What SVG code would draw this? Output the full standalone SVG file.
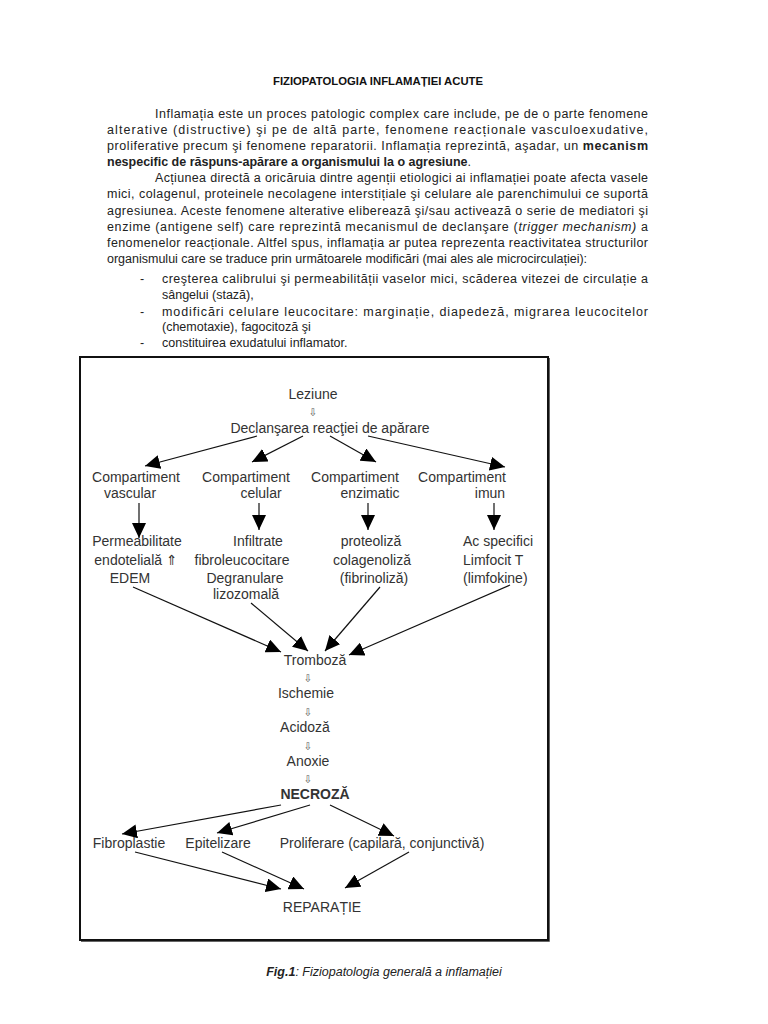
<svg xmlns="http://www.w3.org/2000/svg" width="768" height="1024" viewBox="0 0 768 1024">
<style>
.t{font-family:"Liberation Sans",Arial,sans-serif;font-size:12.5px;fill:#222}
.b{font-weight:bold}
.ti{font-family:"Liberation Sans",Arial,sans-serif;font-size:11.3px;font-weight:bold;fill:#111}
.d{font-family:"Liberation Sans",Arial,sans-serif;font-size:14px;fill:#333}
.m{text-anchor:middle}
.sa{font-family:"DejaVu Sans",sans-serif;font-size:10.5px;fill:#555;text-anchor:middle}
.c{stroke:#111;stroke-width:1.2;fill:none;marker-end:url(#ah)}
</style>
<defs>
<marker id="ah" markerUnits="userSpaceOnUse" markerWidth="16" markerHeight="14" refX="15" refY="7" orient="auto" viewBox="0 0 16 14">
<path d="M0,0 L15,7 L0,14 z" fill="#000"/>
</marker>
</defs>
<rect width="768" height="1024" fill="#fff"/>
<text class="ti m" x="378" y="85">FIZIOPATOLOGIA INFLAMAȚIEI ACUTE</text>
<g class="t">
<text x="155" y="118" textLength="493" lengthAdjust="spacing">Inflamația este un proces patologic complex care include, pe de o parte fenomene</text>
<text x="107" y="134" textLength="541" lengthAdjust="spacing">alterative (distructive) şi pe de altă parte, fenomene reacționale vasculoexudative,</text>
<text x="107" y="150" textLength="541" lengthAdjust="spacing">proliferative precum şi fenomene reparatorii. Inflamația reprezintă, aşadar, un <tspan class="b">mecanism</tspan></text>
<text x="107" y="166"><tspan class="b">nespecific de răspuns-apărare a organismului la o agresiune</tspan>.</text>
<text x="155" y="182" textLength="493" lengthAdjust="spacing">Acțiunea directă a oricăruia dintre agenții etiologici ai inflamației poate afecta vasele</text>
<text x="107" y="198" textLength="541" lengthAdjust="spacing">mici, colagenul, proteinele necolagene interstițiale şi celulare ale parenchimului ce suportă</text>
<text x="107" y="215" textLength="541" lengthAdjust="spacing">agresiunea. Aceste fenomene alterative eliberează şi/sau activează o serie de mediatori şi</text>
<text x="107" y="231" textLength="541" lengthAdjust="spacing">enzime (antigene self) care reprezintă mecanismul de declanşare (<tspan font-style="italic">trigger mechanism)</tspan> a</text>
<text x="107" y="247" textLength="541" lengthAdjust="spacing">fenomenelor reacționale. Altfel spus, inflamația ar putea reprezenta reactivitatea structurilor</text>
<text x="107" y="263">organismului care se traduce prin următoarele modificări (mai ales ale microcirculației):</text>
<text x="140" y="283">-</text>
<text x="162" y="283" textLength="486" lengthAdjust="spacing">creşterea calibrului şi permeabilității vaselor mici,  scăderea vitezei de circulație a</text>
<text x="162" y="299">sângelui (stază),</text>
<text x="140" y="316">-</text>
<text x="162" y="316" textLength="486" lengthAdjust="spacing"> modificări celulare leucocitare: marginație, diapedeză, migrarea leucocitelor</text>
<text x="162" y="331">(chemotaxie), fagocitoză şi</text>
<text x="140" y="347">-</text>
<text x="162" y="347">constituirea exudatului inflamator.</text>
</g>
<rect x="80" y="357" width="468" height="583" fill="none" stroke="#111" stroke-width="2"/>
<line x1="81" y1="941.5" x2="549.5" y2="941.5" stroke="#666" stroke-width="1"/>
<line x1="549.5" y1="358" x2="549.5" y2="941.5" stroke="#666" stroke-width="1"/>
<g id="connectors">
<line class="c" x1="257" y1="436" x2="145" y2="466"/>
<line class="c" x1="303" y1="436" x2="252" y2="462"/>
<line class="c" x1="330" y1="436" x2="376" y2="462"/>
<line class="c" x1="368" y1="436" x2="505" y2="467"/>
<line class="c" x1="139" y1="503" x2="139" y2="538"/>
<line class="c" x1="259" y1="503" x2="259" y2="530"/>
<line class="c" x1="368" y1="503" x2="368" y2="530"/>
<line class="c" x1="494" y1="503" x2="494" y2="530"/>
<line class="c" x1="133" y1="587" x2="281" y2="652"/>
<line class="c" x1="251" y1="603" x2="308" y2="651"/>
<line class="c" x1="380" y1="587" x2="325" y2="651"/>
<line class="c" x1="510" y1="585" x2="349" y2="655"/>
<line class="c" x1="281" y1="805" x2="122" y2="834"/>
<line class="c" x1="310" y1="805" x2="217" y2="833"/>
<line class="c" x1="330" y1="805" x2="394" y2="836"/>
<line class="c" x1="135" y1="852" x2="281" y2="889"/>
<line class="c" x1="222" y1="852" x2="304" y2="889"/>
<line class="c" x1="409" y1="852" x2="345" y2="888"/>
</g>
<g id="n-leziune"><text class="d m" x="313" y="399">Leziune</text><text class="sa" x="313" y="416">⇩</text></g>
<g id="n-declansare"><text class="d m" x="330" y="433">Declanşarea reacţiei de apărare</text></g>
<g id="n-vascular"><text class="d m" x="136" y="482">Compartiment</text><text class="d m" x="130" y="498">vascular</text></g>
<g id="n-celular"><text class="d m" x="246" y="482">Compartiment</text><text class="d m" x="261" y="498">celular</text></g>
<g id="n-enzimatic"><text class="d m" x="355" y="482">Compartiment</text><text class="d m" x="370" y="498">enzimatic</text></g>
<g id="n-imun"><text class="d m" x="462" y="482">Compartiment</text><text class="d m" x="490" y="498">imun</text></g>
<g id="n-edem"><text class="d m" x="137" y="546">Permeabilitate</text><text class="d m" x="136" y="565">endotelială <tspan font-family="DejaVu Sans" font-size="14">⇑</tspan></text><text class="d m" x="130" y="583">EDEM</text></g>
<g id="n-infiltrate"><text class="d m" x="258" y="546">Infiltrate</text><text class="d m" x="242" y="565">fibroleucocitare</text><text class="d m" x="245" y="583">Degranulare</text><text class="d m" x="246" y="599">lizozomală</text></g>
<g id="n-proteoliza"><text class="d m" x="371" y="546">proteoliză</text><text class="d m" x="372" y="565">colagenoliză</text><text class="d m" x="374" y="583">(fibrinoliză)</text></g>
<g id="n-ac"><text class="d" x="463" y="546">Ac specifici</text><text class="d" x="463" y="565">Limfocit T</text><text class="d" x="463" y="583">(limfokine)</text></g>
<g id="n-tromboza"><text class="d m" x="315" y="665">Tromboză</text><text class="sa" x="308" y="682">⇩</text></g>
<g id="n-ischemie"><text class="d m" x="306" y="698">Ischemie</text><text class="sa" x="308" y="716">⇩</text></g>
<g id="n-acidoza"><text class="d m" x="305" y="732">Acidoză</text><text class="sa" x="308" y="750">⇩</text></g>
<g id="n-anoxie"><text class="d m" x="308" y="766">Anoxie</text><text class="sa" x="308" y="783">⇩</text></g>
<g id="n-necroza"><text class="d m b" x="315" y="799" fill="#111">NECROZĂ</text></g>
<g id="n-fibroplastie"><text class="d m" x="129" y="848">Fibroplastie</text></g>
<g id="n-epitelizare"><text class="d m" x="218" y="848">Epitelizare</text></g>
<g id="n-proliferare"><text class="d m" x="382" y="848">Proliferare (capilară, conjunctivă)</text></g>
<g id="n-reparatie"><text class="d m" x="322" y="912" font-size="18">REPARAȚIE</text></g>
<text class="t m" x="384" y="976" font-size="14.5" font-style="italic"><tspan font-weight="bold">Fig.1</tspan>: Fiziopatologia generală a inflamației</text>
</svg>
